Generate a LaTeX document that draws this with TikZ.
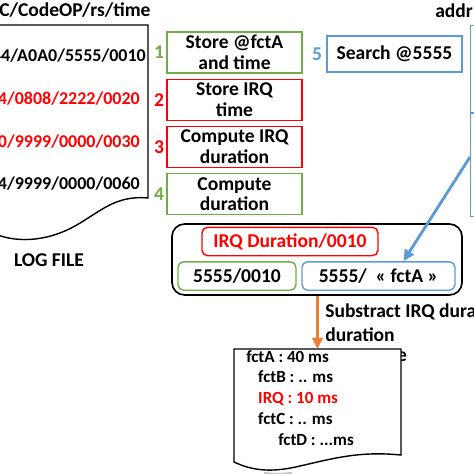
\documentclass[tikz,border=0pt]{standalone}
\usepackage{fontspec}
\setmainfont{Carlito}
\usetikzlibrary{arrows.meta,positioning,calc}
\definecolor{okgreen}{HTML}{70AD47}
\definecolor{irqred}{HTML}{FF0000}
\definecolor{addrblue}{HTML}{5B9BD5}
\definecolor{subor}{HTML}{ED7D31}
\newcommand\boxfont{\fontsize{13.9}{14.9}\selectfont\bfseries}
\newcommand\logfont{\fontsize{12.8}{14}\selectfont\bfseries}
\newcommand\resfont{\fontsize{12.1}{14.8}\selectfont\bfseries}
\tikzset{
  stepbox/.style={draw=#1, line width=1pt, align=center, font=\boxfont, minimum width=3.375cm, minimum height=1.025cm, inner sep=0pt},
  stepbox/.default=black,
  tagbox/.style={draw=#1, line width=1pt, rounded corners=4pt, font=\boxfont, minimum height=0.71cm, inner sep=0pt},
  tagbox/.default=black,
  numlbl/.style={font=\boxfont, text=#1, inner sep=0pt},
  numlbl/.default=black,
  loglbl/.style={font=\logfont, anchor=east, inner sep=0pt},
  arr/.style={-{Triangle[length=2.8mm, width=2.6mm]}, line width=2pt},
}

\begin{document}
\begin{tikzpicture}[x=0.025cm, y=-0.025cm, node distance=0.12cm]
  \useasboundingbox (0,0) rectangle (474,474);

  % log file
  \draw[line width=1pt] (-5,25) -- (148,25) -- (148,198) .. controls (115,195) and (100,212) .. (75,226) .. controls (50,240) and (20,244) .. (-5,234);
  \node[font=\boxfont, anchor=west, inner sep=0pt] (hdr) at (-1,10) {C/CodeOP/rs/time};
  \node[loglbl] (ln1) at (146,56) {44/A0A0/5555/0010};
  \node[loglbl, text=irqred] (ln2) at (140,99) {4/0808/2222/0020};
  \node[loglbl, text=irqred] (ln3) at (140,142) {0/9999/0000/0030};
  \node[loglbl] (ln4) at (140,184) {4/9999/0000/0060};
  \node[font=\boxfont] (logname) at (49,260) {LOG FILE};

  % processing steps
  \node[stepbox=okgreen] (st1) at (234.5,52.5) {Store @fctA\\and time};
  \node[stepbox=irqred, below=of st1] (st2) {Store IRQ\\time};
  \node[stepbox=irqred, below=of st2] (st3) {Compute IRQ\\duration};
  \node[stepbox=okgreen, below=of st3] (st4) {Compute\\duration};
  \node[numlbl=okgreen, left=0.05cm of st1] (n1) {1};
  \node[numlbl=irqred, left=0.05cm of st2] (n2) {2};
  \node[numlbl=irqred, left=0.05cm of st3] (n3) {3};
  \node[numlbl=okgreen, left=0.05cm of st4] (n4) {4};
  \node[stepbox=addrblue, minimum height=0.9cm] (st5) at (394.5,54) {Search @5555};
  \node[numlbl=addrblue, left=0.1cm of st5] (n5) {5};

  % address table
  \node[font=\boxfont, anchor=west, inner sep=0pt] (addr) at (435,11) {addr};
  \node[draw=addrblue, line width=1pt, anchor=north west, minimum width=1cm, minimum height=4.775cm, inner sep=0pt] (addrtab) at (470,25) {};
  \draw[addrblue, line width=1pt] ($(addrtab.north west)+(0,88)$) -- ($(addrtab.north east)+(0,88)$);

  % merged record
  \node[draw, line width=1.2pt, rounded corners=9pt, minimum width=7.25cm, minimum height=1.775cm] (cont) at (317,259.5) {};
  \node[tagbox=irqred, text=irqred, minimum width=4.4cm] (irq) at (290,241.5) {IRQ Duration/0010};
  \node[tagbox=okgreen, minimum width=2.95cm] (own) at (237,276) {5555/0010};
  \node[tagbox=addrblue, minimum width=3.825cm] (fcta) at (378.5,276) {5555/\ \ « fctA »};
  \draw[arr, addrblue] ($(addrtab.north west)+(0,132)$) -- ($(fcta.north)+(25,0)$);

  % profile
  \node[font=\boxfont] (behind) at (402,357) {e};
  \draw[gray!45, line width=2.5pt] (264,473.5) .. controls (272,475) and (282,475) .. (292,473.5);
  \draw[line width=1pt, fill=white] (234,349) -- (401,349) -- (401,455) .. controls (360,451) and (335,458) .. (300,466) .. controls (275,472) and (255,472) .. (234,462) -- cycle;
  \coordinate (restop) at (317.5,349);
  \node[font=\resfont, align=left, anchor=north west, inner sep=0pt] (res) at (246,350) {fctA : 40 ms\\
    \hspace*{8.5pt}fctB : .. ms\\
    \hspace*{8.5pt}\textcolor{irqred}{IRQ : 10 ms}\\
    \hspace*{8.5pt}fctC : .. ms\\
    \hspace*{22.8pt}fctD : ...ms};
  \draw[arr, subor] (cont.south -| restop) -- node[right=0.16cm, inner sep=0pt, text=black, font=\boxfont, align=left] {Substract IRQ dura\\[2.2pt]duration} (restop);
\end{tikzpicture}
\end{document}
